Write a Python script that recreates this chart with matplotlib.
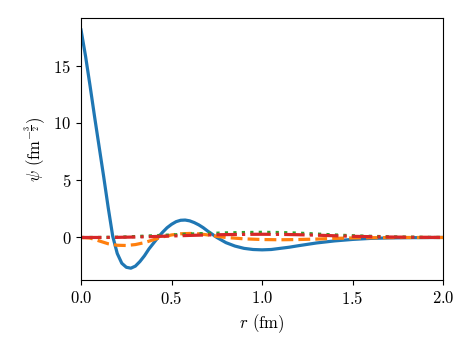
import matplotlib
matplotlib.use("Agg")
import matplotlib.pyplot as plt

# Computer Modern look
plt.rcParams['font.family'] = 'serif'
plt.rcParams['font.serif'] = ['cmr10']
plt.rcParams['mathtext.fontset'] = 'cm'
plt.rcParams['axes.formatter.use_mathtext'] = True
plt.rcParams['font.size'] = 12

# blue, solid
r_a = [0.0, 0.025, 0.05, 0.075, 0.1, 0.125, 0.15, 0.175, 0.2, 0.225, 0.25, 0.275,
       0.3, 0.325, 0.35, 0.375, 0.4, 0.425, 0.45, 0.475, 0.5, 0.525, 0.55, 0.575,
       0.6, 0.625, 0.65, 0.675, 0.7, 0.725, 0.75, 0.8, 0.85, 0.9, 0.95, 1.0, 1.05,
       1.1, 1.15, 1.2, 1.3, 1.4, 1.5, 1.6, 1.7, 1.8, 1.9, 2.0]
psi_a = [18.1, 15.8, 13.2, 10.5, 7.9, 5.3, 2.6, 0.1, -1.4, -2.25, -2.6, -2.68,
         -2.5, -2.1, -1.6, -1.0, -0.5, 0.0, 0.45, 0.85, 1.15, 1.38, 1.5, 1.52,
         1.45, 1.3, 1.1, 0.85, 0.55, 0.28, 0.0, -0.45, -0.75, -0.95, -1.05, -1.08, -1.05,
         -0.95, -0.85, -0.72, -0.48, -0.3, -0.17, -0.08, -0.04, -0.02, -0.01, 0.0]

# orange, dashed
r_b = [0.0, 0.05, 0.1, 0.15, 0.2, 0.25, 0.3, 0.35, 0.4, 0.45, 0.5, 0.55, 0.6,
       0.65, 0.7, 0.75, 0.8, 0.9, 1.0, 1.1, 1.2, 1.3, 1.4, 1.5, 1.6, 1.8, 2.0]
psi_b = [0.0, -0.05, -0.3, -0.55, -0.68, -0.7, -0.62, -0.45, -0.2, 0.05, 0.22, 0.32, 0.35,
         0.32, 0.22, 0.1, 0.0, -0.12, -0.18, -0.2, -0.18, -0.14, -0.08, -0.04, -0.02, 0.0, 0.0]

# green dotted and red dash-dot
r_c = [0.0, 0.1, 0.2, 0.3, 0.4, 0.5, 0.6, 0.7, 0.8, 0.9, 1.0, 1.1, 1.2, 1.3, 1.4,
       1.5, 1.6, 1.7, 1.8, 1.9, 2.0]
psi_c = [0.0, 0.0, 0.02, 0.08, 0.15, 0.22, 0.3, 0.35, 0.4, 0.43, 0.45, 0.43, 0.38, 0.3, 0.22,
         0.15, 0.1, 0.06, 0.03, 0.01, 0.0]
psi_d = [0.0, 0.0, 0.01, 0.04, 0.08, 0.13, 0.18, 0.22, 0.25, 0.27, 0.28, 0.27, 0.24, 0.2, 0.15,
         0.1, 0.07, 0.04, 0.02, 0.01, 0.0]

fig = plt.figure(figsize=(4.74, 3.55), dpi=100)
ax = fig.add_axes([0.171, 0.211, 0.764, 0.738])

ax.plot(r_a, psi_a, color='C0', lw=2.3)
ax.plot(r_b, psi_b, color='C1', lw=2.3, ls='--')
ax.plot(r_c, psi_c, color='C2', lw=2.3, ls=':')
ax.plot(r_c, psi_d, color='C3', lw=2.3, ls='-.')

ax.set_xlim(0, 2.0)
ax.set_xticks([0.0, 0.5, 1.0, 1.5, 2.0])
ax.set_yticks([0, 5, 10, 15])
ax.set_xlabel(r'$r$ (fm)')
ax.set_ylabel(r'$\psi$ (fm$^{-\frac{3}{2}}$)')

fig.savefig('out.png', dpi=100)
